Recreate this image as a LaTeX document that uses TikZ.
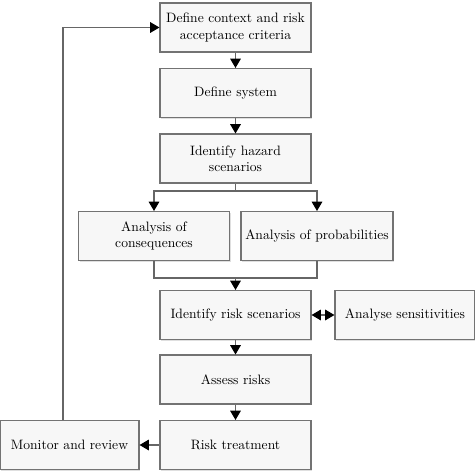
\documentclass[tikz,border=0pt]{standalone}
\usetikzlibrary{arrows.meta,shadows}
\begin{document}
\begin{tikzpicture}[x=0.75pt,y=-0.75pt,
  box/.style={draw=black!55,line width=0.8pt,fill=black!3,align=center,inner sep=1pt,
    minimum height=36.75pt,font=\fontsize{10.2}{12.2}\selectfont,
    drop shadow={opacity=0.25,shadow xshift=0.8pt,shadow yshift=-0.8pt}},
  conn/.style={draw=black!60,line width=0.8pt},
  tri/.tip={Triangle[width=8pt,length=7pt,color=black]},
  tip/.style={-tri},
]
\useasboundingbox (0,0) rectangle (474,474);
\node[box,minimum width=113.25pt] (b1) at (235.5,27.5) {Define context and risk\\acceptance criteria};
\node[box,minimum width=113.25pt] (b2) at (235.5,93) {Define system};
\node[box,minimum width=113.25pt] (b3) at (235.5,158.5) {Identify hazard\\scenarios};
\node[box,minimum width=113.25pt] (cons) at (154,236) {Analysis of\\consequences};
\node[box,minimum width=114pt] (prob) at (317,236) {Analysis of probabilities};
\node[box,minimum width=113.25pt] (irs) at (235.5,315) {Identify risk scenarios};
\node[box,minimum width=105pt] (sens) at (405,315) {Analyse sensitivities};
\node[box,minimum width=113.25pt] (assess) at (235.5,379.5) {Assess risks};
\node[box,minimum width=113.25pt] (treat) at (235.5,445) {Risk treatment};
\node[box,minimum width=104.25pt] (mon) at (69.5,445) {Monitor and review};
\coordinate (split) at (235.5,191);
\coordinate (merge) at (235.5,278);
\draw[conn,tip] (b1) -- (b2);
\draw[conn,tip] (b2) -- (b3);
\draw[conn] (b3) -- (split);
\draw[conn,tip] (split) -| (cons);
\draw[conn,tip] (split) -| (prob);
\draw[conn] (cons) |- (merge);
\draw[conn] (prob) |- (merge);
\draw[conn,tip] (merge) -- (irs);
\draw[conn,tri-tri] (irs) -- (sens);
\draw[conn,tip] (irs) -- (assess);
\draw[conn,tip] (assess) -- (treat);
\draw[conn,tip] (treat) -- (mon);
\draw[conn,tip] (mon.north -| 63,0) -- (63,27.5) -- (b1);
\end{tikzpicture}
\end{document}
